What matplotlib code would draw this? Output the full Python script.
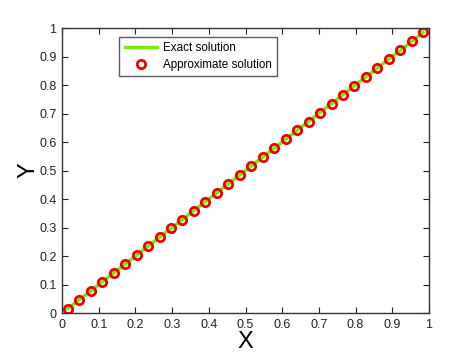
import matplotlib
matplotlib.use("Agg")
import matplotlib.pyplot as plt

plt.rcParams['font.family'] = ['Liberation Sans', 'DejaVu Sans']

# sample points of the solution
x_vals = [0.0156, 0.0469, 0.0781, 0.1094, 0.1406, 0.1719, 0.2031, 0.2344,
          0.2656, 0.2969, 0.3281, 0.3594, 0.3906, 0.4219, 0.4531, 0.4844,
          0.5156, 0.5469, 0.5781, 0.6094, 0.6406, 0.6719, 0.7031, 0.7344,
          0.7656, 0.7969, 0.8281, 0.8594, 0.8906, 0.9219, 0.9531, 0.9844]
y_exact = [0.0156, 0.0469, 0.0781, 0.1094, 0.1406, 0.1719, 0.2031, 0.2344,
           0.2656, 0.2969, 0.3281, 0.3594, 0.3906, 0.4219, 0.4531, 0.4844,
           0.5156, 0.5469, 0.5781, 0.6094, 0.6406, 0.6719, 0.7031, 0.7344,
           0.7656, 0.7969, 0.8281, 0.8594, 0.8906, 0.9219, 0.9531, 0.9844]
y_approx = [0.0156, 0.0469, 0.0781, 0.1094, 0.1406, 0.1719, 0.2031, 0.2344,
            0.2656, 0.2969, 0.3281, 0.3594, 0.3906, 0.4219, 0.4531, 0.4844,
            0.5156, 0.5469, 0.5781, 0.6094, 0.6406, 0.6719, 0.7031, 0.7344,
            0.7656, 0.7969, 0.8281, 0.8594, 0.8906, 0.9219, 0.9531, 0.9844]
ticks = [0, 0.1, 0.2, 0.3, 0.4, 0.5, 0.6, 0.7, 0.8, 0.9, 1]
tick_labels = ['0', '0.1', '0.2', '0.3', '0.4', '0.5', '0.6', '0.7', '0.8', '0.9', '1']

fig = plt.figure(figsize=(4.74, 3.59), dpi=100)
ax = fig.add_axes([0.131, 0.128, 0.774, 0.794])

ax.plot(x_vals, y_exact, color='#77ee00', linewidth=2.5, label='Exact solution')
ax.plot(x_vals, y_approx, linestyle='none', marker='o', markersize=6,
        markerfacecolor='none', markeredgecolor='#ee0000', markeredgewidth=2,
        label='Approximate solution')

ax.set_xlim(0, 1)
ax.set_ylim(0, 1)
ax.set_xticks(ticks)
ax.set_xticklabels(tick_labels)
ax.set_yticks(ticks)
ax.set_yticklabels(tick_labels)
ax.tick_params(direction='in', top=True, right=True, labelsize=9, length=4,
               width=0.8, colors='#222222', pad=4)
for s in ax.spines.values():
    s.set_linewidth(1.0)
    s.set_color('#333333')

ax.set_xlabel('X', fontsize=17, labelpad=0)
ax.set_ylabel('Y', fontsize=17, rotation=90, labelpad=0)

leg = ax.legend(loc='upper left', bbox_to_anchor=(0.14, 0.99), fontsize=8.4,
                frameon=True, fancybox=False, edgecolor='#333333',
                handlelength=2.8, borderpad=0.45, labelspacing=0.45,
                handletextpad=0.5)
leg.get_frame().set_linewidth(1.0)

fig.savefig('out.png', dpi=100)
